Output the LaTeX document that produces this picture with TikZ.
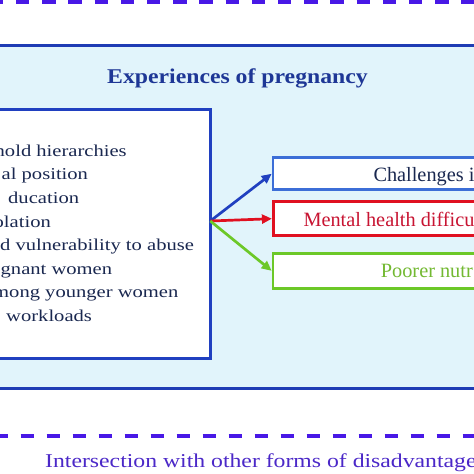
\documentclass[tikz,border=0pt]{standalone}
\usepackage{fontspec}
\setmainfont{Liberation Serif}
\newfontfamily\titlefont{Liberation Serif}[FakeStretch=1.13]
\newfontfamily\listfont{Liberation Serif}[FakeStretch=1.24]
\newfontfamily\bottomfont{Liberation Serif}[FakeStretch=1.21]
\usetikzlibrary{arrows.meta}
\definecolor{framefill}{RGB}{225,244,251}
\definecolor{frameblue}{RGB}{30,60,180}
\definecolor{listblue}{RGB}{32,64,192}
\definecolor{navy}{RGB}{26,40,80}
\definecolor{arrblue}{RGB}{32,64,192}
\definecolor{boxblue}{RGB}{60,110,215}
\definecolor{myred}{RGB}{224,16,32}
\definecolor{redtext}{RGB}{200,20,50}
\definecolor{mygreen}{RGB}{108,200,40}
\definecolor{greentext}{RGB}{115,185,50}
\definecolor{dashpurple}{RGB}{72,24,230}
\definecolor{bottomtext}{RGB}{75,40,200}
\definecolor{titlecol}{RGB}{30,55,150}
\begin{document}
\begin{tikzpicture}[x=1pt,y=-1pt,
  bigbox/.style={draw=frameblue,fill=framefill,line width=3pt,rectangle,inner sep=0pt},
  listbox/.style={draw=listblue,fill=white,line width=3pt,rectangle,inner sep=0pt},
  outbox/.style={fill=white,line width=2.7pt,rectangle,inner sep=0pt,minimum width=327pt},
  titletext/.style={anchor=base,inner sep=0pt,text=titlecol,font=\titlefont\bfseries\fontsize{21pt}{21pt}\selectfont},
  listtext/.style={anchor=base west,inner sep=0pt,text=navy,font=\listfont\fontsize{16.6pt}{16.6pt}\selectfont},
  outtext/.style={anchor=base west,inner sep=0pt,font=\fontsize{20.3pt}{20.3pt}\selectfont},
  bottomstyle/.style={anchor=base west,inner sep=0pt,text=bottomtext,font=\bottomfont\fontsize{19.6pt}{19.6pt}\selectfont},
  dashline/.style={draw=dashpurple,line width=4pt,dash pattern=on 13.3pt off 12.9pt},
  arrowline/.style={line width=2.7pt,-{Triangle[length=10pt,width=9pt]}}
]
\useasboundingbox (0,0) rectangle (474,474);
\clip (0,0) rectangle (474,474);
\fill[white] (0,0) rectangle (474,474);

% top dashed line
\coordinate (td1) at (-10.2,1.5);
\coordinate (td2) at (490,1.5);
\draw[dashline] (td1) -- (td2);

% frame
\node[bigbox,minimum width=520pt,minimum height=342.8pt] (frame) at (237,216.9) {};
\node[titletext] (title) at (237.5,83.3) {Experiences of pregnancy};

% left box
\node[listbox,minimum width=310.3pt,minimum height=249.3pt] (causes) at (55.15,233.65) {};
\node[listtext] (l1) at (-5.5,156.3) {hold hierarchies};
\node[listtext] (l2) at (1.5,179.9) {al position};
\node[listtext] (l3) at (8,203.5) {ducation};
\node[listtext] (l4) at (-6.5,227.1) {olation};
\node[listtext] (l5) at (0,250.7) {d vulnerability to abuse};
\node[listtext] (l6) at (0.5,274.3) {gnant women};
\node[listtext] (l7) at (-7,297.9) {mong younger women};
\node[listtext] (l8) at (6,321.5) {workloads};

% right boxes
\node[outbox,draw=boxblue,minimum height=31.9pt] (b1) at (436.5,173.75) {};
\node[outbox,draw=myred,minimum height=34pt] (b2) at (436.75,218.7) {};
\node[outbox,draw=mygreen,minimum height=35pt] (b3) at (436.5,270.8) {};
\node[outtext,text=navy] (t1) at (373.3,181.7) {Challenges i};
\node[outtext,text=redtext] (t2) at (303.3,226.7) {Mental health difficu};
\node[outtext,text=greentext] (t3) at (380.7,277.7) {Poorer nutr};

% arrows
\coordinate (src) at (210.3,221);
\draw[arrowline,draw=arrblue,fill=arrblue] (src) -- (b1.west);
\draw[arrowline,draw=myred,fill=myred] (src) -- (b2.west);
\draw[arrowline,draw=mygreen,fill=mygreen] (src) -- (b3.west);

% bottom dashed line and text
\coordinate (bd1) at (-5.3,436);
\coordinate (bd2) at (490,436);
\draw[dashline,dash pattern=on 13.5pt off 12.5pt] (bd1) -- (bd2);
\node[bottomstyle] (inter) at (45,467.3) {Intersection with other forms of disadvantage};
\end{tikzpicture}
\end{document}
